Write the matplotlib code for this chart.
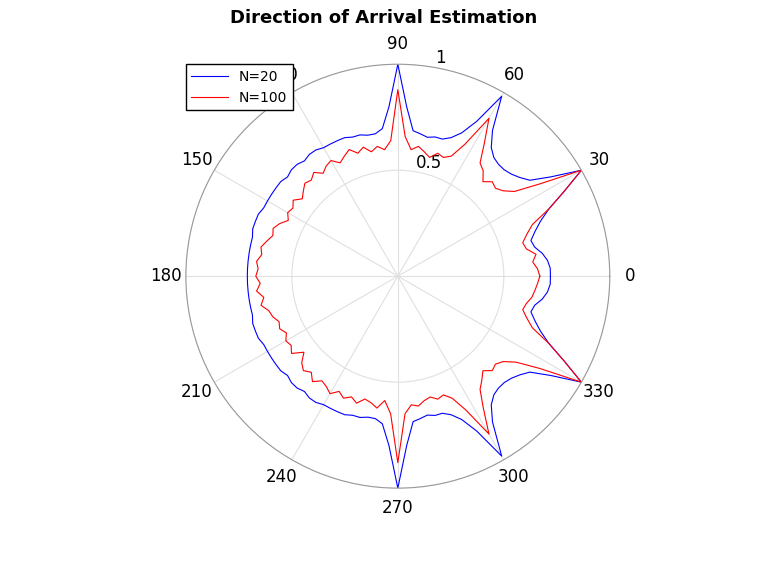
import numpy as np
import matplotlib.pyplot as plt

# angles in degrees (3 degree steps), radii
angle_deg = np.arange(0, 360, 3)

blue_n20 = [
    0.72, 0.72, 0.71, 0.69, 0.66, 0.65, 0.68, 0.72, 0.78, 0.88,  # 0-27
    1.00, 0.86, 0.77, 0.74, 0.72, 0.71, 0.71, 0.72, 0.75, 0.82,  # 30-57
    0.98, 0.82, 0.74, 0.70, 0.68, 0.68, 0.67, 0.68, 0.69, 0.80,  # 60-87
    1.00, 0.80, 0.70, 0.68, 0.68, 0.69, 0.69, 0.70, 0.70, 0.70,  # 90-117
    0.70, 0.71, 0.71, 0.70, 0.71, 0.71, 0.70, 0.71, 0.71, 0.71,  # 120-147
    0.71, 0.71, 0.72, 0.72, 0.72, 0.71, 0.71, 0.71, 0.71, 0.71,  # 150-177
    0.71, 0.71, 0.71, 0.71, 0.71, 0.71, 0.72, 0.72, 0.72, 0.71,  # 180-207
    0.71, 0.71, 0.71, 0.71, 0.70, 0.71, 0.71, 0.70, 0.71, 0.71,  # 210-237
    0.70, 0.70, 0.70, 0.70, 0.69, 0.69, 0.68, 0.68, 0.70, 0.80,  # 240-267
    1.00, 0.80, 0.69, 0.68, 0.67, 0.68, 0.68, 0.70, 0.74, 0.82,  # 270-297
    0.98, 0.82, 0.75, 0.72, 0.71, 0.71, 0.72, 0.74, 0.77, 0.86,  # 300-327
    1.00, 0.88, 0.78, 0.72, 0.68, 0.65, 0.66, 0.69, 0.71, 0.72,  # 330-357
]

red_n100 = [
    0.67, 0.66, 0.64, 0.66, 0.62, 0.61, 0.64, 0.68, 0.78, 0.88,
    1.00, 0.80, 0.68, 0.64, 0.62, 0.63, 0.60, 0.64, 0.66, 0.75,
    0.86, 0.70, 0.62, 0.60, 0.61, 0.58, 0.60, 0.62, 0.60, 0.66,
    0.88, 0.64, 0.60, 0.62, 0.60, 0.63, 0.61, 0.64, 0.62, 0.60,
    0.63, 0.62, 0.60, 0.63, 0.61, 0.62, 0.60, 0.58, 0.61, 0.59,
    0.60, 0.58, 0.61, 0.63, 0.62, 0.64, 0.66, 0.65, 0.67, 0.66,
    0.67, 0.65, 0.67, 0.64, 0.66, 0.63, 0.62, 0.60, 0.61, 0.59,
    0.61, 0.60, 0.62, 0.57, 0.61, 0.63, 0.61, 0.64, 0.61, 0.62,
    0.64, 0.61, 0.63, 0.61, 0.63, 0.60, 0.61, 0.63, 0.59, 0.65,
    0.88, 0.65, 0.61, 0.62, 0.60, 0.59, 0.61, 0.60, 0.63, 0.71,
    0.86, 0.74, 0.66, 0.63, 0.60, 0.63, 0.62, 0.64, 0.69, 0.80,
    1.00, 0.88, 0.78, 0.68, 0.64, 0.61, 0.62, 0.64, 0.65, 0.66,
]

def closed(vals):
    return np.append(vals, vals[0])

theta = closed(np.deg2rad(angle_deg))

fig = plt.figure(figsize=(7.68, 5.73), dpi=100)
ax = fig.add_axes([0.242, 0.148, 0.552, 0.740], projection='polar')
ax.plot(theta, closed(blue_n20), color='blue', lw=0.8, label='N=20')
ax.plot(theta, closed(red_n100), color='red', lw=0.8, label='N=100')

ax.set_ylim(0, 1)
ax.set_rticks([0.5, 1])
ax.set_yticklabels(['0.5', '1'], fontsize=12)
ax.set_rlabel_position(80)
ax.set_thetagrids(np.arange(0, 360, 30), [str(a) for a in range(0, 360, 30)], fontsize=12)
ax.tick_params(axis='x', pad=4)
ax.grid(color='#e0e0e0', lw=0.8)
ax.spines['polar'].set_color('#999999')

fig.suptitle('Direction of Arrival Estimation', fontweight='bold', fontsize=13, y=0.985)
fig.legend(loc='upper left', bbox_to_anchor=(0.233, 0.9), fontsize=10, handlelength=2.6,
           fancybox=False, edgecolor='black', framealpha=1)
fig.savefig('out.png')
